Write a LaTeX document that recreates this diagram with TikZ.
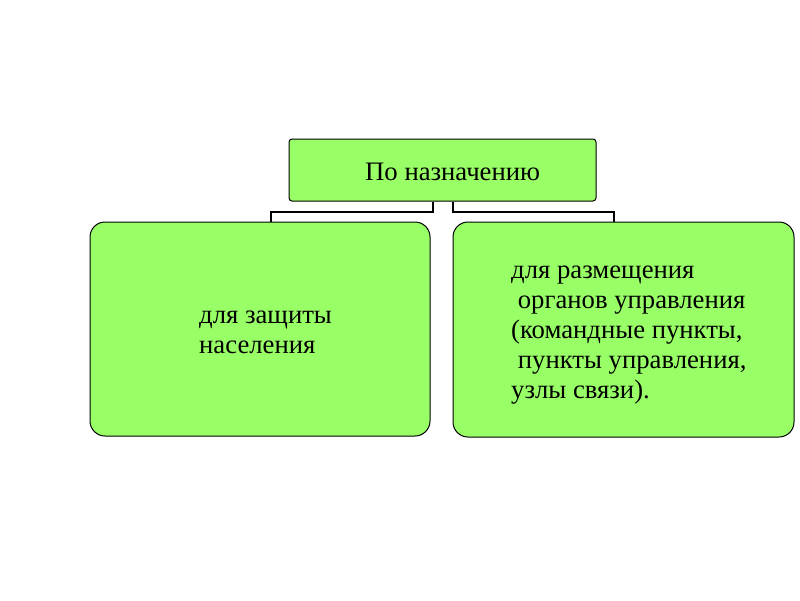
\documentclass[tikz,border=0pt]{standalone}
\usepackage{fontspec}
\setmainfont{Liberation Serif}
\definecolor{boxgreen}{RGB}{153,255,102}
\begin{document}
\begin{tikzpicture}[x=1pt,y=-1pt,
  box/.style={draw=black,line width=1pt,fill=boxgreen,inner sep=0pt},
  conn/.style={draw=black,line width=2pt},
  txt/.style={anchor=base west,inner sep=0pt,font=\fontsize{26.7}{30}\selectfont}]
\useasboundingbox (0,0) rectangle (800,600);
\node[box,rounded corners=3pt,minimum width=307pt,minimum height=62pt] (top) at (442.5,170) {};
\node[box,rounded corners=15pt,minimum width=340pt,minimum height=214pt] (L) at (260,329) {};
\node[box,rounded corners=15pt,minimum width=341pt,minimum height=215pt] (R) at (623.5,329.5) {};
\draw[conn] ([xshift=-9.5pt]top.south) -- ++(0,10) -| ([xshift=11pt]L.north);
\draw[conn] ([xshift=10.5pt]top.south) -- ++(0,10) -| ([xshift=-9.5pt]R.north);
\node[txt] (t0) at (365,180) {По назначению};
\node[txt] (l1) at (199,323) {для защиты};
\node[txt] (l2) at (199,353) {населения};
\node[txt] (r1) at (511,278) {для размещения};
\node[txt] (r2) at (511,308) {\ органов управления};
\node[txt] (r3) at (511,338) {(командные пункты,};
\node[txt] (r4) at (511,368) {\ пункты управления,};
\node[txt] (r5) at (511,398) {узлы связи).};
\end{tikzpicture}
\end{document}
